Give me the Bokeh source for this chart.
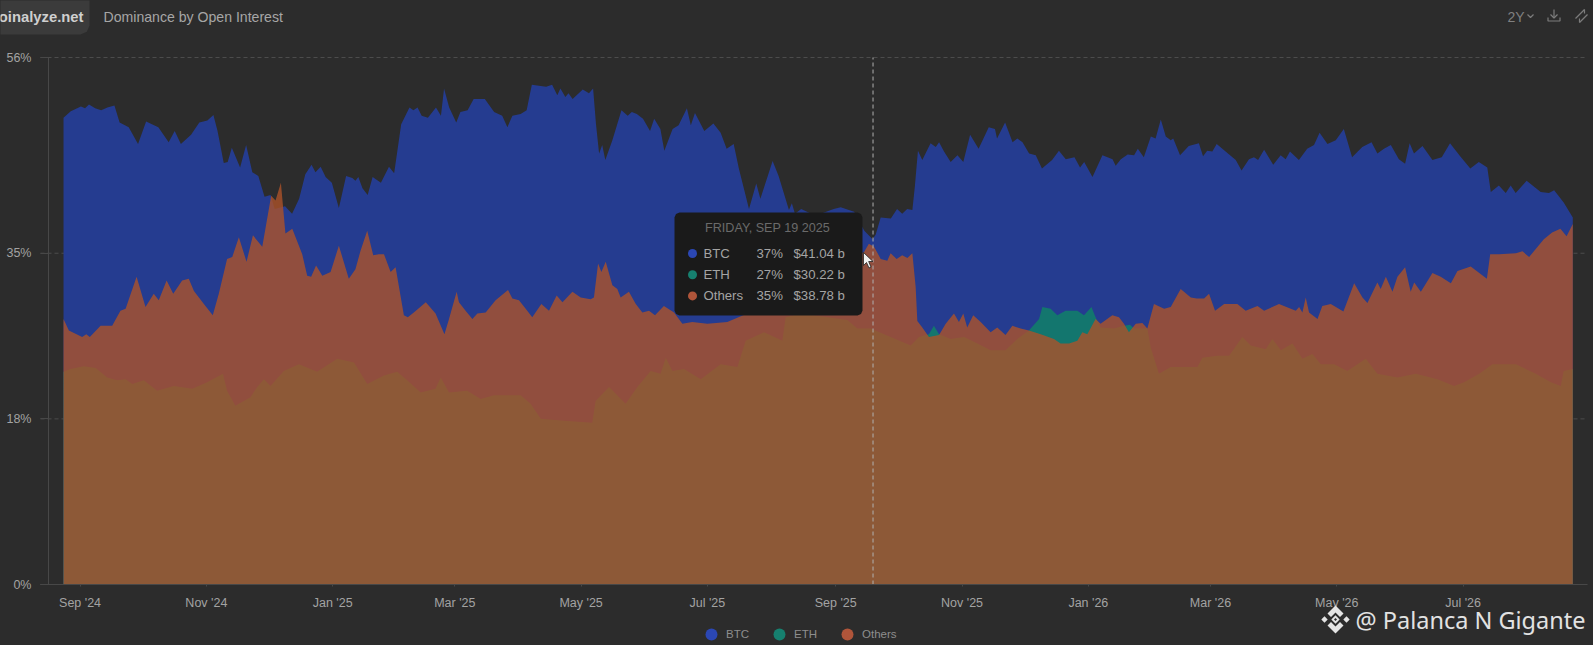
import pandas as pd
from bokeh.plotting import figure
from bokeh.embed import file_html
from bokeh.resources import INLINE
from bokeh.core.properties import value
from bokeh.models import (FixedTicker, GlobalInlineStyleSheet, Label, Legend,
                          LegendItem, PolyAnnotation, Range1d)

START = "2024-08-24"

btc_days = [0,3.5,8.4,10.4,12.3,15.3,18.2,21.2,24.6,27.1,31.5,36,39.9,45.8,50.8,53.7,56.7,61.6,65.6,69.5,72.4,74.4,77.4,79.3,81.3,85.3,88.2,91.2,94.1,97.1,100,102,107,110.4,113.8,116.8,119.8,121.7,124.2,126.6,129.6,133,136.5,139.5,141,142.4,144.4,146.9,149.3,153.3,157.2,159.7,163.1,167.1,169,171,173,176,179.9,182.3,183.8,186.3,189.7,191.7,195.2,198.1,203.5,208,211.9,214.4,216.8,220.8,223.7,226.2,233.1,236,238.5,240,242.4,243.9,245.9,250.8,253.8,255.8,257.2,258.7,260.2,261.7,265.1,269.5,272.5,274.5,276.9,279.9,283.3,285.3,288.3,290.2,294.2,297.1,301.1,303,305,309.5,313.9,317.4,320.3,323.7,326.2,331.1,334.6,336.6,342.5,345.4,350.4,351.8,353.3,356.3,361.2,365.7,372,375.4,381.9,386.8,390.8,392.3,394.7,399.6,402.6,405.1,407.5,410,411.2,412.7,414.8,418.8,421.3,422.9,425.3,428.5,431.8,434.6,437.9,442,446.9,449.9,450.9,454.8,458.4,460.7,463.2,466.4,469.6,472.6,477.5,480.8,484.1,488.3,491,493,497,501.8,506.7,508.2,510.7,514,517.1,518.9,521.8,525.2,527.5,530,532.4,534.8,536,539.3,543.5,548.4,550.4,552.4,554.9,557,561.3,566.2,569,572.6,575,577,579.9,584.3,587.9,590.3,592.4,596.7,600.7,604,606.7,610.5,614.5,618.4,622.4,627.3,631.8,634.6,637.8,641.1,645,648,650.2,652.3,656.4,661.2,665.7,669.7,674.6,679.5,683.6,687.7,689.4,693.3,696.6,699,701.4,706.7,713.5,717.5,720,724.6,729]
btc_pct = [49.6,50.3,50.8,50.6,51.0,50.6,50.4,50.7,50.9,49.1,48.6,46.8,49.2,48.6,47.0,48.2,46.8,47.8,49.1,49.3,49.9,48.2,44.8,44.9,46.4,44.3,46.7,43.8,43.4,41.2,41.4,39.9,40.2,39.4,41.0,43.6,44.6,43.8,44.4,43.3,42.7,40.0,43.4,43.2,42.9,43.3,42.1,41.4,43.3,42.7,44.4,43.7,48.9,50.7,50.4,50.7,49.8,49.6,50.7,49.8,52.7,50.7,49.1,50.2,50.4,51.6,51.6,50.2,49.8,48.6,49.8,50.0,50.4,53.1,52.9,53.1,52.0,52.7,51.8,52.2,51.6,52.6,52.2,52.7,48.9,45.8,46.7,45.1,47.2,50.4,49.8,50.2,50.0,49.5,48.2,49.5,48.4,46.1,48.4,48.8,50.6,48.8,50.1,48.2,49.0,48.0,46.3,46.8,44.2,39.9,42.6,41.0,45.0,43.4,39.8,40.5,39.4,39.9,39.4,39.4,39.9,40.1,39.6,37.6,36.7,37.2,39.0,38.9,39.9,39.4,39.9,39.8,42.3,46.1,45.1,46.9,46.5,47.0,46.0,44.9,45.6,44.9,47.8,46.3,48.6,48.4,47.4,49.1,47.0,47.4,47.0,45.8,45.6,44.2,45.1,46.1,45.2,45.4,44.3,44.9,43.3,45.6,45.2,44.5,45.2,45.7,45.6,46.3,45.4,47.6,47.4,49.4,47.6,47.2,47.4,45.6,46.6,46.9,45.5,46.1,46.0,46.8,46.0,45.1,44.0,45.2,45.4,45.1,46.2,44.6,45.6,45.2,46.0,45.1,46.3,46.7,48.0,46.8,47.2,48.4,45.4,46.5,47.0,45.8,46.3,46.7,45.2,44.7,46.9,45.8,46.6,45.1,45.4,46.9,45.5,44.2,44.9,44.3,41.7,42.4,41.6,42.4,41.6,42.9,41.7,41.6,41.9,40.6,39.0]

eth_days = [0,3.4,9.8,15.5,21.1,25.9,30,33.2,38.8,45.2,53.3,62.2,69.4,77,79,83,90.3,93.6,96.8,100,106.4,113.7,122.5,132.2,140.3,146.7,154.8,161.2,166,172.5,179.7,182.2,186.2,195,201.5,207.9,220.8,225.6,230.5,241.7,255.4,257,263.5,271.5,277.2,283.6,288.4,290.9,294.1,299.7,307.8,317.4,325.5,329.5,338.4,347.2,348.8,356,378.6,383.4,389.8,399.5,409.2,413.2,418,420.4,422.9,428.5,435,441.4,447.8,455,460.7,466.3,471.2,472.8,476.8,480,484,489.7,492.9,496.5,498.5,500.9,507.4,512.2,515.1,517.1,523.5,525.1,529.1,534.8,547.7,550.1,557.3,563,569.4,573.4,580.7,583.9,588,593.6,598.4,603.2,607.3,613.7,620.1,629,634.6,644.3,653.2,663.6,671.7,676.5,683.8,690.2,701.5,711.1,718.4,723.2,724.6,729]
eth_pct = [22.6,22.9,23.2,23.0,22.0,21.7,21.8,21.3,21.7,20.6,21.1,20.8,21.5,22.4,20.6,19.0,19.9,21.0,21.8,21.1,22.7,23.4,22.6,24.0,23.6,21.3,22.2,22.6,21.7,20.4,20.8,22.0,20.4,20.6,19.7,20.1,20.1,19.2,17.6,17.4,17.2,19.5,21.0,19.2,21.0,22.7,22.4,24.1,22.7,22.9,21.8,23.4,23.1,25.9,26.8,25.9,28.4,28.8,28.1,27.2,27.2,26.3,25.4,26.3,26.6,27.5,26.6,26.1,26.3,25.6,24.9,24.9,26.1,27.0,28.2,29.5,29.3,28.6,29.1,29.1,28.6,29.5,28.4,27.3,27.2,27.5,27.6,27.2,27.2,25.2,22.4,23.1,23.1,24.1,24.3,24.3,26.3,25.4,25.0,26.1,24.9,25.6,24.0,24.5,23.4,23.4,22.7,24.0,22.4,22.0,22.4,21.8,21.1,21.5,22.4,23.4,23.4,22.4,21.5,21.1,22.7,22.9]

others_days = [0,2.6,9,11,12.7,17.9,23.5,27.5,30,35.3,39.6,43.6,46,49.8,53,57.3,60.5,63,67.8,72.1,75,79,81.5,84.7,88.4,91.5,96,100.3,102.4,105,107.2,110.5,115.3,117.7,119.6,122,125,129,133,137.8,141,143.5,146.7,149.6,152.3,154.8,158,160.4,164.4,166.3,169.2,175,179.7,184,186.2,189.9,191,194.2,197.5,199.9,203.9,208.7,214.7,216.8,220,224,226.4,230.8,234.5,238.2,241,245.8,249.8,254.6,256.2,258.2,259.8,261.9,265.1,267.5,269.1,273.1,276.4,279.6,282.8,285.7,290,294.9,298.9,303.7,311,320.6,330.3,340,349.6,365,378,386.6,389,391.5,394.7,397.9,399.5,402.4,405.1,407.6,410,411.6,412.4,414.8,418,422.9,426.1,430.1,432.5,434.6,436.5,439.4,443,447.8,451,455,458.3,462.3,466.3,472,478.4,481.6,485.7,489.7,492.1,494.5,498.5,500.9,506.6,509.8,512.2,514.6,517.9,521.1,523.5,526.7,531.6,534.8,539.6,544.5,547.4,550.9,553.3,556.2,560.6,567,571,576.7,579.9,587.1,595.2,596.8,598.4,600,601.6,605.7,608,612.1,618.2,623.4,627.4,629.8,634.6,636.2,638.7,641.9,644.3,648,650.7,652.4,655.6,661.2,665.2,670.1,673.3,679.7,687.5,689.1,693.4,701.5,704.7,707.9,715,719,723,726,729]
others_pct = [28.2,27.0,26.3,26.6,26.3,27.5,27.5,29.1,29.3,32.7,29.5,30.9,30.2,32.3,30.9,32.3,32.5,31.2,29.8,28.6,30.9,34.6,34.8,36.9,34.3,37.1,35.9,41.3,40.8,42.7,37.3,37.8,35.1,32.8,32.7,33.9,32.8,33.2,36.0,32.5,33.5,35.5,37.6,35.0,35.1,35.1,33.2,33.7,28.6,28.4,28.9,30.0,28.8,26.6,28.2,31.1,30.0,29.1,28.2,28.8,28.9,30.2,31.3,30.4,30.2,29.1,28.4,29.8,29.1,30.7,30.0,31.1,30.5,30.3,30.5,34.1,33.2,34.3,31.8,31.4,30.5,31.1,29.8,28.9,29.1,28.6,29.6,28.9,27.7,27.9,27.7,27.9,28.8,29.1,30.2,33.5,34.5,35.3,36.2,35.9,34.6,34.4,35.2,34.6,35.0,34.7,35.2,31.6,28.0,27.3,26.3,26.5,27.7,28.8,27.9,28.8,27.3,28.6,27.9,26.8,27.3,26.5,27.5,27.2,27.0,26.6,26.1,25.6,25.6,25.9,26.8,26.6,28.2,27.7,28.6,28.4,27.7,26.8,27.7,27.8,27.2,29.8,29.3,29.5,31.4,30.5,30.4,30.4,30.9,29.1,29.8,29.8,29.1,29.6,29.1,29.8,29.1,29.5,28.9,30.5,28.9,28.2,29.6,29.8,29.0,32.0,30.5,29.9,32.1,31.4,32.7,31.1,32.7,33.7,31.1,32.1,31.1,33.1,32.7,32.0,33.3,33.8,32.5,35.1,35.1,35.2,35.4,34.8,36.7,37.4,37.8,37.0,38.3]

tick_months = ["2024-09-01","2024-11-01","2025-01-01","2025-03-01","2025-05-01","2025-07-01","2025-09-01","2025-11-01","2026-01-01","2026-03-01","2026-05-01","2026-07-01"]
tick_texts = ["Sep '24","Nov '24","Jan '25","Mar '25","May '25","Jul '25","Sep '25","Nov '25","Jan '26","Mar '26","May '26","Jul '26"]
y_ticks = [0, 17.6, 35.2, 56]
y_texts = ["0%", "18%", "35%", "56%"]
hover_day = "2025-09-19"
hover_rows = [("BTC", "37%", "$41.04 b"), ("ETH", "27%", "$30.22 b"), ("Others", "35%", "$38.78 b")]

BG = "#2c2c2c"
BLUE, TEAL, RED = "#253c90", "#13766e", "#ac5229"
DOTS = ["#2b47b4", "#16806f", "#b0553a"]
TXT = "#a3a3a3"
FONT = "Liberation Sans"
W, H = 1593, 645
L, R, T, B = 48, 1587, 57, 584
DAY = 86400000.0

def ms(s):
    return pd.Timestamp(s).value / 1e6

t0 = ms(START)
x0, x1 = t0 - 7.25 * DAY, t0 + 736.1 * DAY

def X(px):
    return x0 + (px - L) / (R - L) * (x1 - x0)

def Y(py):
    return (B - py) / (B - T) * 56

def dates(days):
    return [t0 + d * DAY for d in days]

# The frame fills the whole canvas so that the header, legend and watermark are not cut off by it.
p = figure(width=W, height=H, output_backend="svg", toolbar_location=None,
           x_axis_type="datetime", x_range=Range1d(X(0), X(W)), y_range=Range1d(Y(H), Y(0)),
           min_border=0, background_fill_color=BG, border_fill_color=BG, outline_line_color=None)
p.stylesheets = [GlobalInlineStyleSheet(css=f"html,body{{margin:0;padding:0;background:{BG};overflow:hidden}}")]

p.segment(x0=[X(40)] * len(y_ticks), x1=[X(R)] * len(y_ticks), y0=y_ticks, y1=y_ticks,
          line_color="#4c4c4c", line_dash="4 3", line_width=1)
p.varea(x=dates(btc_days), y1=[0] * len(btc_days), y2=btc_pct, fill_color=BLUE)
p.varea(x=dates(eth_days), y1=[0] * len(eth_days), y2=eth_pct, fill_color=TEAL)
p.varea(x=dates(others_days), y1=[0] * len(others_days), y2=others_pct, fill_color=RED, fill_alpha=0.8)
p.segment(x0=[ms(hover_day)], x1=[ms(hover_day)], y0=[0], y1=[56], line_color="#b0b0b0", line_dash="4 3", line_width=1)

xa, ya = p.xaxis[0], p.yaxis[0]
xa.fixed_location = 0
ya.fixed_location = X(L)
xa.bounds = (X(40), X(R))
ya.bounds = (0, 56)
xa.ticker = FixedTicker(ticks=[ms(m) for m in tick_months])
xa.major_label_overrides = {ms(m): t for m, t in zip(tick_months, tick_texts)}
ya.ticker = FixedTicker(ticks=y_ticks)
ya.major_label_overrides = dict(zip(y_ticks, y_texts))
for a in (xa, ya):
    a.axis_line_color = "#484848"
    a.major_tick_line_color = "#484848"
    a.minor_tick_line_color = None
    a.major_tick_in = 0
    a.major_label_text_color = TXT
    a.major_label_text_font = FONT
    a.major_label_text_font_size = "12.5px"
xa.major_tick_out = 2
xa.major_label_standoff = 9
ya.major_tick_out = 8
ya.major_label_standoff = 9
p.grid.visible = False


def label(px, py, text, color=TXT, size=13, align="left", style="normal", font=FONT):
    p.add_layout(Label(x=X(px), y=Y(py), text=text, text_color=color, text_font=font,
                       text_font_size=f"{size}px", text_align=align, text_baseline="middle",
                       text_font_style=style, level="overlay"))


def poly(points, fill=None, line=None, width=1.2, level="annotation"):
    p.add_layout(PolyAnnotation(xs=[X(a) for a, _ in points], ys=[Y(b) for _, b in points],
                                fill_color=fill, fill_alpha=1 if fill else 0,
                                line_color=line, line_alpha=1, line_width=width, level=level))


def path(points, color="#7c7c7c", width=1.2):
    poly(points + points[-2:0:-1], None, color, width)


def rounded(l, t, r, b, c):
    k = c * 0.3
    return [(l + c, t), (r - c, t), (r - k, t + k), (r, t + c), (r, b - c), (r - k, b - k), (r - c, b),
            (l + c, b), (l + k, b - k), (l, b - c), (l, t + c), (l + k, t + k)]


# legend: the handles lie outside the view, only their symbols are seen
handles = [p.scatter(x=[X(-200)], y=[Y(-200)], size=12, marker="circle", fill_color=c, line_color=None) for c in DOTS]
legend = Legend(items=[LegendItem(label=value(n), renderers=[h]) for (n, _, _), h in zip(hover_rows, handles)],
                orientation="horizontal", location=(696, -4), background_fill_alpha=0, border_line_color=None,
                margin=0, padding=0, glyph_width=30, glyph_height=30, label_standoff=0, spacing=15,
                label_text_color="#8e8e8e", label_text_font=FONT, label_text_font_size="11.5px", label_height=14)
p.add_layout(legend, "center")

# header
poly(rounded(-20, -20, 89, 34, 9), "#3b3b3b")
label(83, 16, "coinalyze.net", "#cfcfcf", 14.8, "right", "bold")
label(103, 16, "Dominance by Open Interest", "#a6a6a6", 14.1)
label(1507, 16, "2Y", "#808080", 14)
path([(1527, 14), (1530, 17), (1533, 14)])
path([(1553.5, 9), (1553.5, 17)])
path([(1550, 14), (1553.5, 17.5), (1557, 14)])
path([(1547.5, 17), (1547.5, 20.5), (1559.5, 20.5), (1559.5, 17)])
path([(1575, 18), (1584, 9)])
path([(1579, 22), (1587, 14)])
path([(1584, 9), (1584, 13)])
path([(1579, 22), (1579, 18)])

# tooltip
poly(rounded(674, 212, 862, 315, 5), "#1a1a1a")
label(767, 227, "FRIDAY, SEP 19 2025", "#6a6a6a", 12.6, "center")
for i, (name, pct, val) in enumerate(hover_rows):
    py = 253 + i * 21.2
    p.scatter(x=[X(692)], y=[Y(py)], size=9, marker="circle", fill_color=DOTS[i], line_color=None, level="overlay")
    label(703, py, name, "#a4a4a4", 13.2)
    label(756, py, pct, "#a4a4a4", 13.2)
    label(793, py, val, "#a4a4a4", 13.2)

# mouse pointer
poly([(863, 252), (863, 265), (866, 262), (868.5, 267.5), (870.5, 266.5), (868.2, 261), (872.5, 261)],
     "#f0f0f0", "#222222", 0.8, level="overlay")

# watermark
c_x, c_y = 1335, 619
d = lambda x, y, r: [(x, y - r), (x + r, y), (x, y + r), (x - r, y)]
chev = [(c_x, 605), (c_x + 8, 613), (c_x + 4.5, 616.5), (c_x, 612), (c_x - 4.5, 616.5), (c_x - 8, 613)]
poly(chev, "#e4e4e4")
poly([(a, 2 * c_y - b) for a, b in chev], "#e4e4e4")
poly(d(c_x - 11, c_y, 3.2), "#e4e4e4")
poly(d(c_x + 11, c_y, 3.2), "#e4e4e4")
poly(d(c_x, c_y, 4.2), "#e4e4e4")
poly(d(c_x, c_y, 1.5), BG)
label(1355, 619, "@ Palanca N Gigante", "#e2e2e2", 23.5, font="Noto Sans")

open("out.html", "w").write(file_html(p, INLINE))
